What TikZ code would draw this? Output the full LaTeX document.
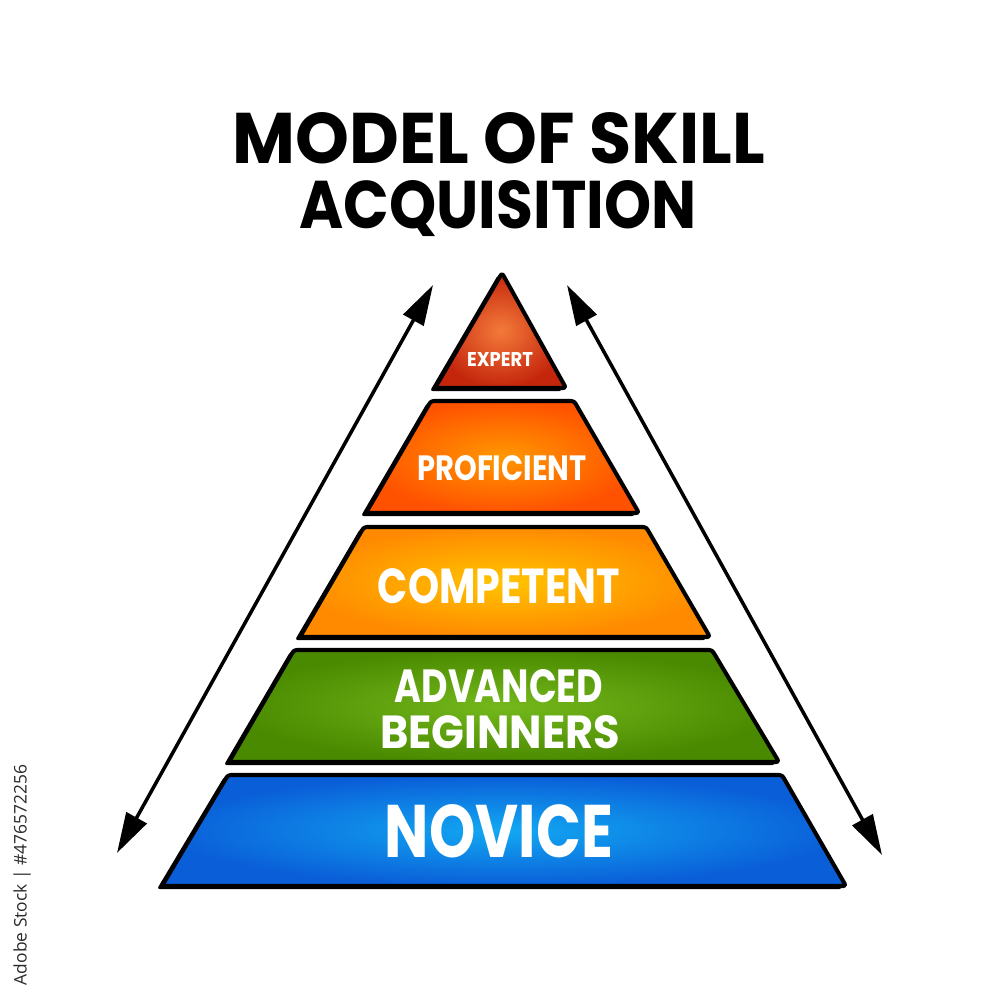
\documentclass[tikz,border=0pt]{standalone}
\usepackage{graphicx}
\usepackage{fontspec}
\newfontfamily\hand{Poppins}
\newfontfamily\wmfont{Open Sans}
\usetikzlibrary{arrows.meta}
\newlength\pxu \setlength\pxu{0.02cm}
\newcommand\fitt[3]{\resizebox{#1\pxu}{#2\pxu}{\hand\bfseries #3}}
\definecolor{expOut}{HTML}{C4260C}
\definecolor{expIn}{HTML}{F47A3A}
\definecolor{proOut}{HTML}{FF5200}
\definecolor{proIn}{HTML}{FF9800}
\definecolor{comOut}{HTML}{FF8A00}
\definecolor{comIn}{HTML}{FFC400}
\definecolor{advOut}{HTML}{4A8A00}
\definecolor{advIn}{HTML}{74B81C}
\definecolor{novOut}{HTML}{0A5ED8}
\definecolor{novIn}{HTML}{12A8F2}
\definecolor{wmgray}{HTML}{2A2A2A}
\tikzset{
  layer/.style={draw=black, line width=2.3pt, line join=round, rounded corners=1.5pt, shading=radial},
  shadowfill/.style={fill=black, rounded corners=1.5pt},
  lbl/.style={inner sep=0pt, anchor=base, text=white},
  ttl/.style={inner sep=0pt, anchor=base, text=black},
  dbl/.style={{Triangle[length=23pt,width=13pt]}-{Triangle[length=23pt,width=13pt]}, line width=2pt}
}
\begin{document}
\begin{tikzpicture}[x=0.02cm, y=-0.02cm]
\useasboundingbox (0,0) rectangle (1000,1000);
\fill[white] (0,0) rectangle (1000,1000);

% title
\node[ttl] (t1) at (499,164) {\fitt{532}{51}{MODEL OF SKILL}};
\node[ttl] (t2) at (498,229) {\fitt{397}{48}{ACQUISITION}};

% shadows
\fill[shadowfill] (498,275) -- (430,391) -- (562,391) -- cycle;
\fill[shadowfill] (427,403) -- (570,403) -- (635,516) -- (361,516) -- cycle;
\fill[shadowfill] (360,529) -- (642,529) -- (706,640) -- (295,640) -- cycle;
\fill[shadowfill] (290,652) -- (708,652) -- (775,765) -- (224,765) -- cycle;
\fill[shadowfill] (224,777) -- (778,777) -- (842,889) -- (157,889) -- cycle;

% layers
\draw[layer, inner color=expIn, outer color=expOut] (502,273) -- (566,388) -- (435,388) -- cycle;
\draw[layer, inner color=proIn, outer color=proOut] (431,401) -- (574,401) -- (639,513) -- (366,513) -- cycle;
\draw[layer, inner color=comIn, outer color=comOut] (364,527) -- (646,527) -- (710,637) -- (300,637) -- cycle;
\draw[layer, inner color=advIn, outer color=advOut] (294,650) -- (712,650) -- (779,762) -- (229,762) -- cycle;
\draw[layer, inner color=novIn, outer color=novOut] (228,775) -- (782,775) -- (846,886) -- (162,886) -- cycle;

% labels
\node[lbl] (expert) at (500,366) {\fitt{66}{14}{EXPERT}};
\node[lbl] (proficient) at (502,480) {\fitt{169}{25}{PROFICIENT}};
\node[lbl] (competent) at (499,603) {\fitt{242}{35}{COMPETENT}};
\node[lbl] (advanced) at (499,702) {\fitt{208}{33}{ADVANCED}};
\node[lbl] (beginners) at (500,748) {\fitt{240}{33}{BEGINNERS}};
\node[lbl] (novice) at (499,857) {\fitt{228}{53}{NOVICE}};

% arrows
\coordinate (lt) at (433,285);
\coordinate (lb) at (117,853);
\coordinate (rt) at (567,285);
\coordinate (rb) at (882,855);
\draw[dbl] (lb) -- (lt);
\draw[dbl] (rb) -- (rt);

% side credit
\node[inner sep=0pt, rotate=90, text=wmgray] (credit) at (22,875) {\resizebox{220\pxu}{!}{\wmfont Adobe Stock | \#476572256}};
\end{tikzpicture}
\end{document}
